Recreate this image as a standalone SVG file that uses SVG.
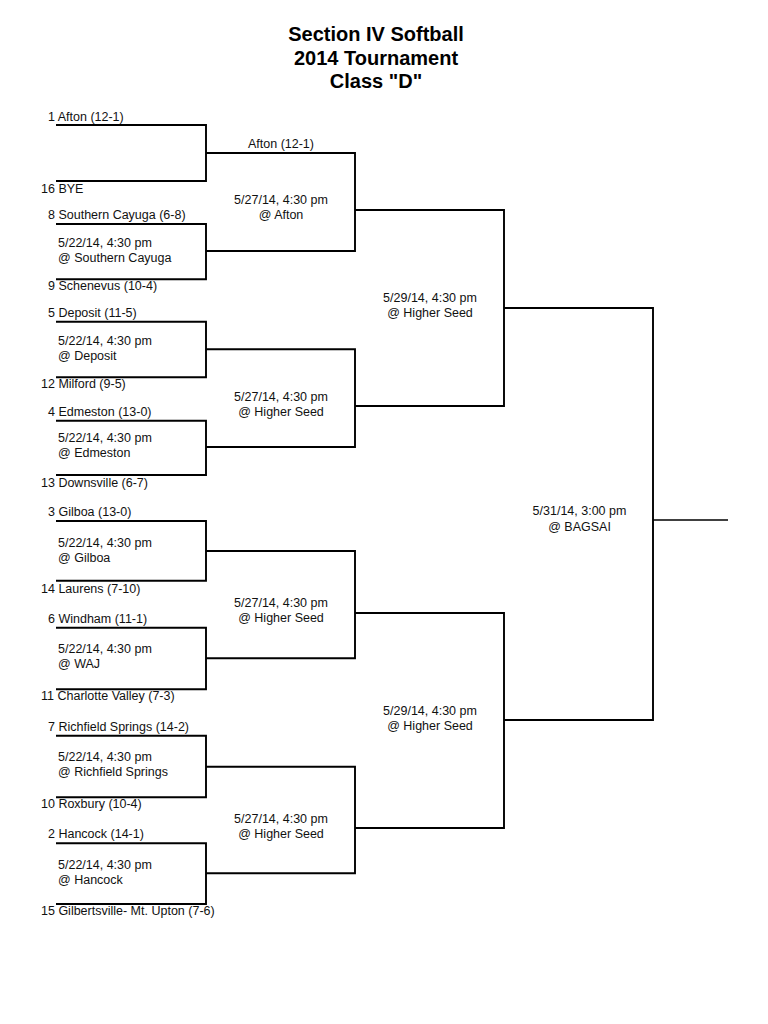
<svg xmlns="http://www.w3.org/2000/svg" width="768" height="1024" viewBox="0 0 768 1024">
<style>
text{font-family:"Liberation Sans",Arial,Helvetica,sans-serif;font-size:12.5px;fill:#111}
.title{font-size:20px;font-weight:bold;text-anchor:middle;fill:#000}
.c{text-anchor:middle}
.ln{fill:none;stroke:#000;stroke-width:1.9;stroke-linejoin:miter;stroke-linecap:butt}
.thin{stroke-width:1.5}
</style>
<rect width="768" height="1024" fill="#fff"/>
<g id="title">
<text class="title" x="376" y="41">Section IV Softball</text>
<text class="title" x="376" y="64.5">2014 Tournament</text>
<text class="title" x="376" y="88">Class "D"</text>
</g>
<g id="connectors">
<path class="ln" d="M56,125H206V181H56"/>
<path class="ln" d="M56,224H206V279.3H56"/>
<path class="ln" d="M56,321.7H206V377.3H56"/>
<path class="ln" d="M56,420.7H206V475H56"/>
<path class="ln" d="M56,521H206V580.7H56"/>
<path class="ln" d="M56,627.7H206V689.3H56"/>
<path class="ln" d="M56,735.7H206V797.3H56"/>
<path class="ln" d="M56,843.3H206V904H56"/>
<path class="ln" d="M206,153H355V251H206"/>
<path class="ln" d="M206,349.3H355V447H206"/>
<path class="ln" d="M206,551H355V658.3H206"/>
<path class="ln" d="M206,766.7H355V873.3H206"/>
<path class="ln" d="M355,210H504V406H355"/>
<path class="ln" d="M355,613H504V828H355"/>
<path class="ln" d="M504,308H653V720H504"/>
<path class="ln thin" d="M653,520H728"/>
</g>
<g id="seed-1"><text x="48" y="120.7">1 Afton (12-1)</text></g>
<g id="seed-16"><text x="41" y="192.7">16 BYE</text></g>
<g id="seed-8"><text x="48" y="219.3">8 Southern Cayuga (6-8)</text></g>
<g id="seed-9"><text x="48" y="290">9 Schenevus (10-4)</text></g>
<g id="seed-5"><text x="48" y="316.7">5 Deposit (11-5)</text></g>
<g id="seed-12"><text x="41" y="388.3">12 Milford (9-5)</text></g>
<g id="seed-4"><text x="48" y="415.5">4 Edmeston (13-0)</text></g>
<g id="seed-13"><text x="41" y="486.5">13 Downsville (6-7)</text></g>
<g id="seed-3"><text x="48" y="515.7">3 Gilboa (13-0)</text></g>
<g id="seed-14"><text x="41" y="593">14 Laurens (7-10)</text></g>
<g id="seed-6"><text x="48" y="622.7">6 Windham (11-1)</text></g>
<g id="seed-11"><text x="41" y="700">11 Charlotte Valley (7-3)</text></g>
<g id="seed-7"><text x="48" y="730.7">7 Richfield Springs (14-2)</text></g>
<g id="seed-10"><text x="41" y="807.5">10 Roxbury (10-4)</text></g>
<g id="seed-2"><text x="48" y="838.3">2 Hancock (14-1)</text></g>
<g id="seed-15"><text x="41" y="914.5">15 Gilbertsville- Mt. Upton (7-6)</text></g>
<g id="r1-m2"><text x="58" y="246.7">5/22/14, 4:30 pm</text><text x="58" y="261.7">@ Southern Cayuga</text></g>
<g id="r1-m3"><text x="58" y="345">5/22/14, 4:30 pm</text><text x="58" y="360">@ Deposit</text></g>
<g id="r1-m4"><text x="58" y="441.7">5/22/14, 4:30 pm</text><text x="58" y="457">@ Edmeston</text></g>
<g id="r1-m5"><text x="58" y="546.5">5/22/14, 4:30 pm</text><text x="58" y="561.7">@ Gilboa</text></g>
<g id="r1-m6"><text x="58" y="653.3">5/22/14, 4:30 pm</text><text x="58" y="668.3">@ WAJ</text></g>
<g id="r1-m7"><text x="58" y="761">5/22/14, 4:30 pm</text><text x="58" y="776">@ Richfield Springs</text></g>
<g id="r1-m8"><text x="58" y="869">5/22/14, 4:30 pm</text><text x="58" y="884.3">@ Hancock</text></g>
<g id="r2-m1"><text class="c" x="281" y="148">Afton (12-1)</text><text class="c" x="281" y="204">5/27/14, 4:30 pm</text><text class="c" x="281" y="219">@ Afton</text></g>
<g id="r2-m2"><text class="c" x="281" y="401">5/27/14, 4:30 pm</text><text class="c" x="281" y="416">@ Higher Seed</text></g>
<g id="r2-m3"><text class="c" x="281" y="607.3">5/27/14, 4:30 pm</text><text class="c" x="281" y="622.3">@ Higher Seed</text></g>
<g id="r2-m4"><text class="c" x="281" y="822.7">5/27/14, 4:30 pm</text><text class="c" x="281" y="837.7">@ Higher Seed</text></g>
<g id="r3-m1"><text class="c" x="430" y="302">5/29/14, 4:30 pm</text><text class="c" x="430" y="317">@ Higher Seed</text></g>
<g id="r3-m2"><text class="c" x="430" y="715">5/29/14, 4:30 pm</text><text class="c" x="430" y="730">@ Higher Seed</text></g>
<g id="final"><text class="c" x="579.5" y="515">5/31/14, 3:00 pm</text><text class="c" x="579.5" y="531">@ BAGSAI</text></g>
</svg>
